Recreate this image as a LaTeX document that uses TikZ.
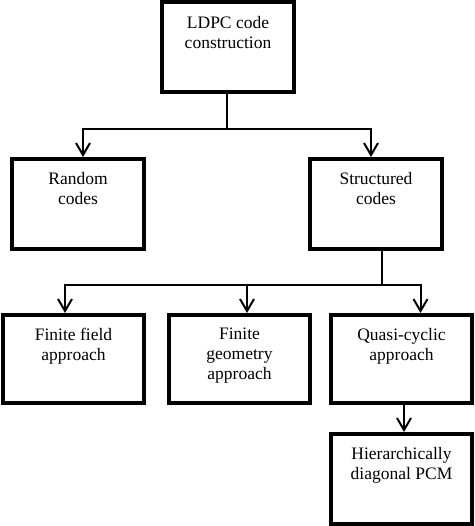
\documentclass[tikz,border=0pt]{standalone}
\usepackage{fontspec}
\setmainfont{Liberation Serif}
\usetikzlibrary{arrows.meta}
\begin{document}
\begin{tikzpicture}[x=1pt,y=1pt,
  box/.style={draw, line width=4pt, inner sep=0pt, minimum width=#1},
  box/.default=132,
  lbl/.style={anchor=north, align=center, inner sep=0pt,
    font=\fontsize{17.5}{20}\selectfont},
  conn/.style={line width=2pt},
  arr/.style={line width=2pt, -{Straight Barb[length=12pt,width=14pt]}}]
\useasboundingbox (0,0) rectangle (474,-526);
% boxes
\node[box, minimum height=90] (top) at (228,-47) {};
\node[box, minimum height=90] (rnd) at (78,-204) {};
\node[box, minimum height=90] (str) at (376,-204) {};
\node[box=141, minimum height=88] (ff) at (73.5,-359) {};
\node[box=141, minimum height=88] (fg) at (239.5,-359) {};
\node[box=141, minimum height=88] (qc) at (401.5,-359) {};
\node[box=141, minimum height=90] (hd) at (401.5,-479) {};
% texts
\node[lbl] (topt) at ([yshift=-16.5]top.north) {LDPC code\\construction};
\node[lbl] (rndt) at ([yshift=-15]rnd.north) {Random\\codes};
\node[lbl] (strt) at ([yshift=-15]str.north) {Structured\\codes};
\node[lbl] (fft) at ([yshift=-15]ff.north) {Finite field\\approach};
\node[lbl] (fgt) at ([yshift=-15]fg.north) {Finite\\geometry\\approach};
\node[lbl] (qct) at ([yshift=-15]qc.north) {Quasi-cyclic\\approach};
\node[lbl] (hdt) at ([yshift=-15]hd.north) {Hierarchically\\diagonal PCM};
% connectors
\coordinate (j1) at (227,-128.7);
\draw[conn] (top.south -| j1) -- (j1);
\draw[arr] (j1) -| ([xshift=5]rnd.north);
\draw[arr] (j1) -| ([xshift=-5]str.north);
\coordinate (j2) at (381.7,-285);
\draw[conn] (str.south -| j2) -- (j2);
\draw[arr] (j2) -| ([xshift=-8.5]ff.north);
\draw[arr] (j2) -| ([xshift=7.5]fg.north);
\draw[arr] (j2) -| ([xshift=19]qc.north);
\draw[arr] ([xshift=2.5]qc.south) -- ([xshift=2.5]hd.north);
\end{tikzpicture}
\end{document}
